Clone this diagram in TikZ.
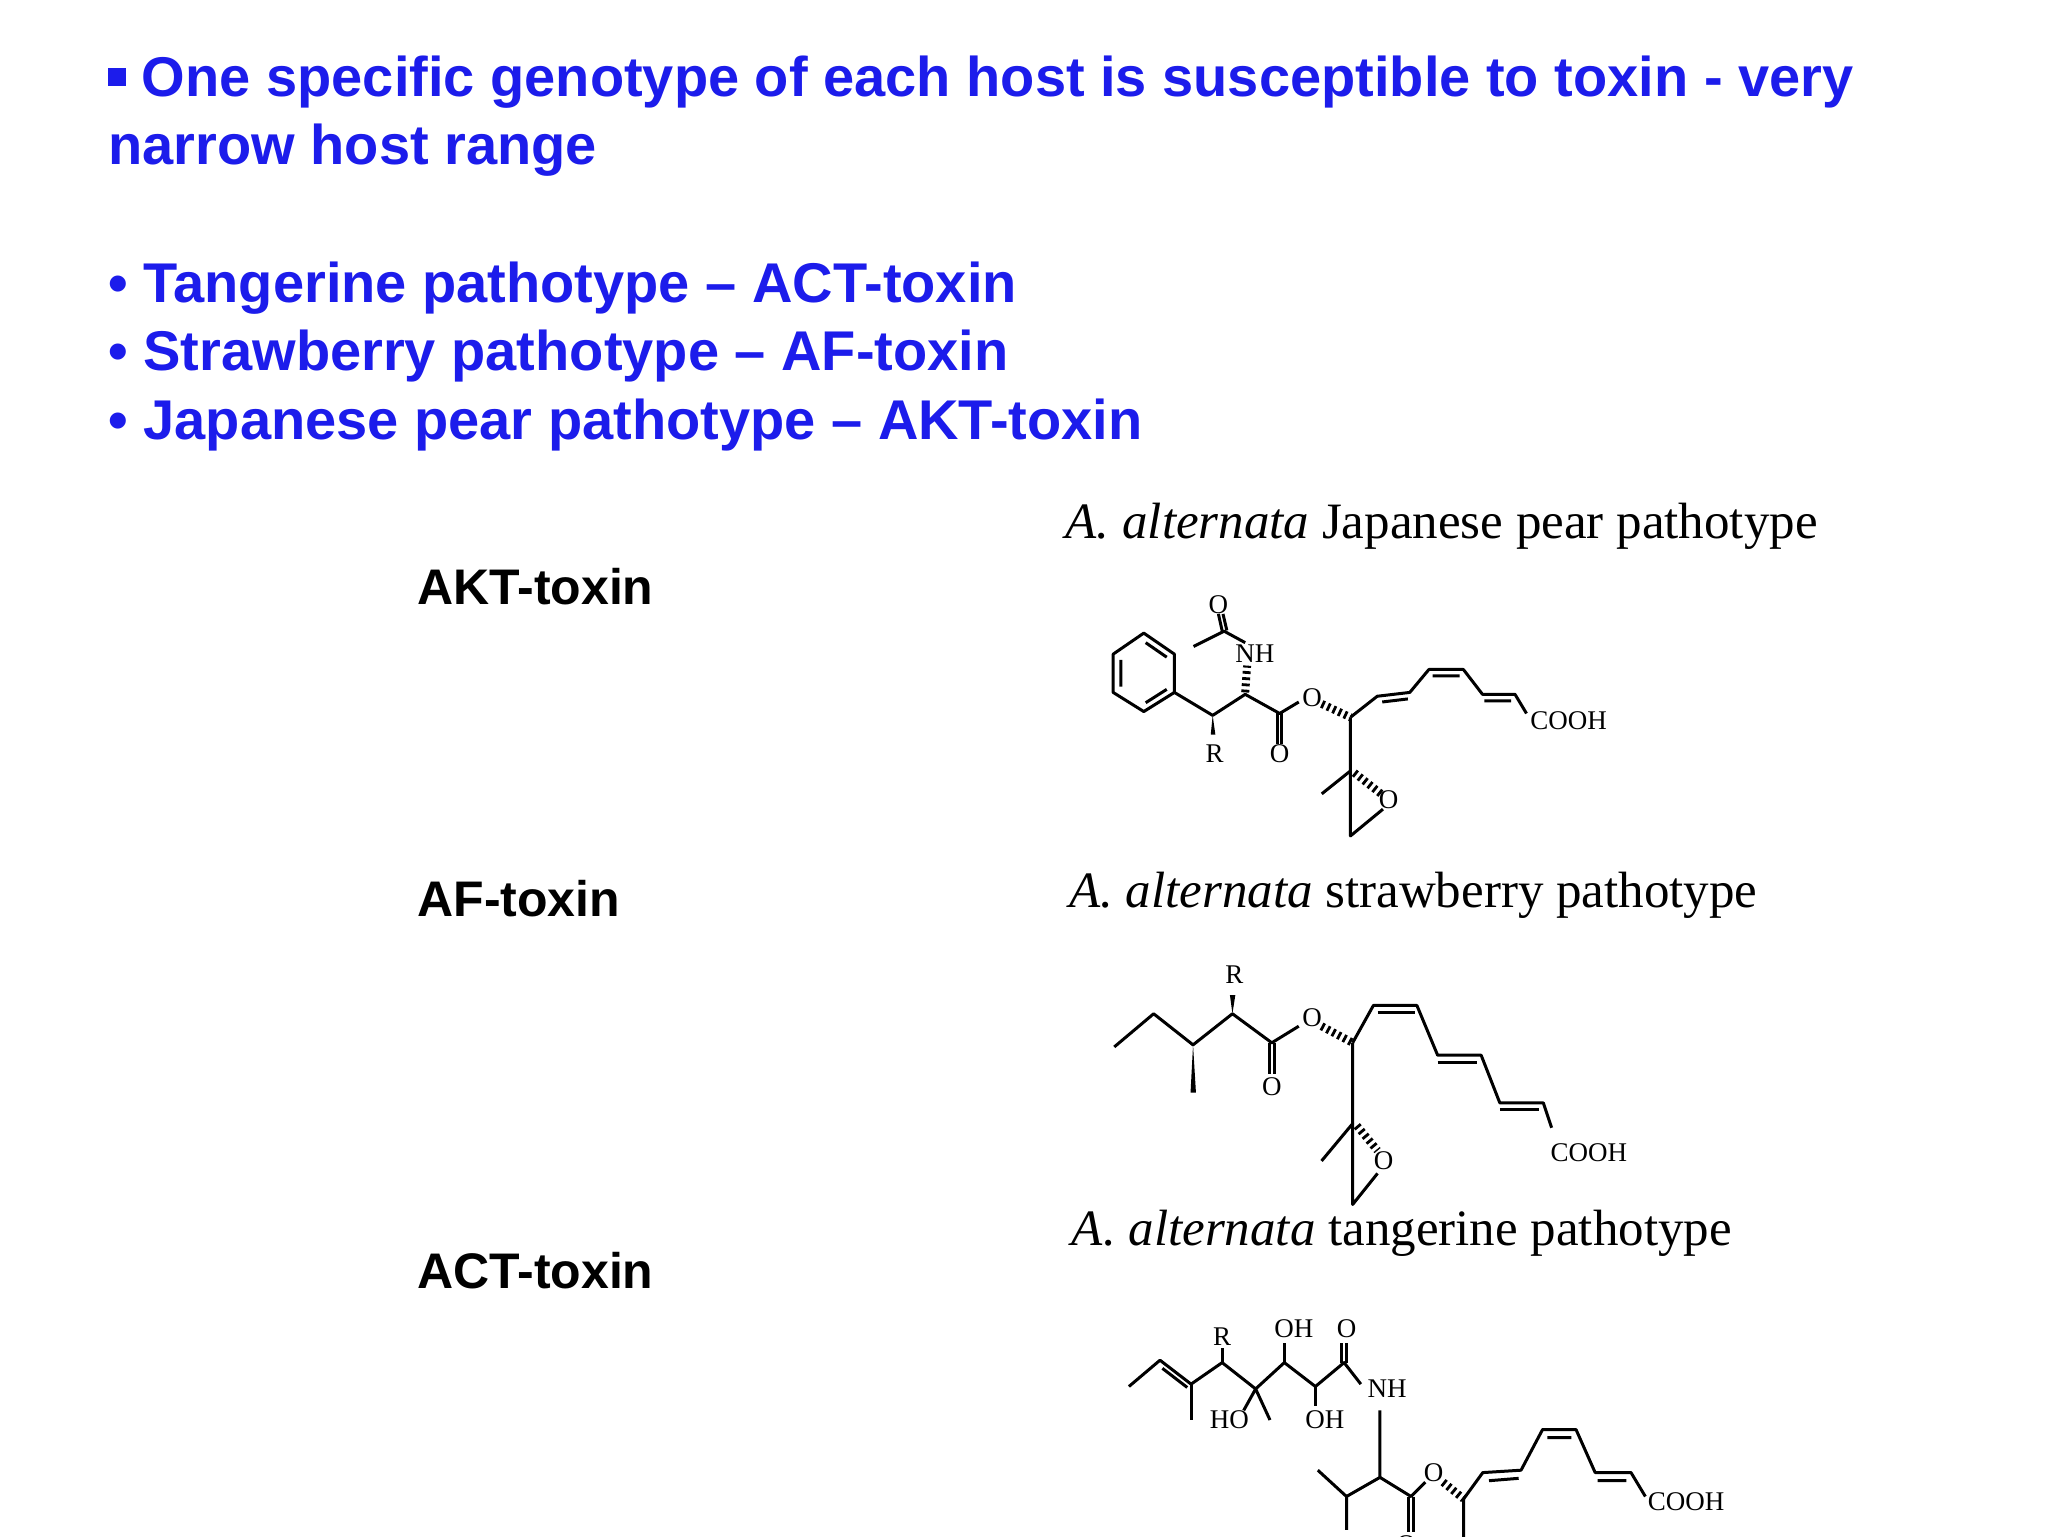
\documentclass[tikz,border=0pt]{standalone}
\usepackage{fontspec}
\setmainfont{Liberation Serif}
\newfontfamily\arialf{Liberation Sans}
\definecolor{tblue}{RGB}{28,28,235}
\begin{document}
\begin{tikzpicture}[x=0.5pt,y=-0.5pt,
  blu/.style={anchor=west,text=tblue,font=\arialf\bfseries\fontsize{28}{32}\selectfont,inner sep=0},
  lab/.style={anchor=west,font=\arialf\bfseries\fontsize{25}{29}\selectfont,inner sep=0},
  capt/.style={anchor=west,font=\fontsize{25.5}{29}\selectfont,inner sep=0},
  atm/.style={font=\fontsize{13.5}{15}\selectfont,inner sep=0},
  bd/.style={line width=1.5pt,line join=round},
  hsh/.style={line width=4pt,dash pattern=on 1.4pt off 1.7pt},
  wdg/.style={fill=black}]
\useasboundingbox (0,0) rectangle (2048,1536);
\fill[white] (0,0) rectangle (2048,1536);
\node[blu] (t1) at (108,82) {\fontsize{18}{20}\selectfont\raisebox{0.3em}{\rule{0.5em}{0.5em}}\fontsize{28}{32}\selectfont\ One specific genotype of each host is susceptible to toxin - very};
\node[blu] (t2) at (108,150) {narrow host range};
\node[blu] (t3) at (108,288) {• Tangerine pathotype – ACT-toxin};
\node[blu] (t4) at (108,356) {• Strawberry pathotype – AF-toxin};
\node[blu] (t5) at (108,425) {• Japanese pear pathotype – AKT-toxin};
\node[lab] (l1) at (417,587) {AKT-toxin};
\node[lab] (l2) at (417,899) {AF-toxin};
\node[lab] (l3) at (417,1271) {ACT-toxin};
% ---------- AKT ----------
\begin{scope}[shift={(1050,480)},scale=1/2.613]
\node[capt] (c1) at (40,120) {\textit{A.\ alternata} Japanese pear pathotype};
\draw[bd] (245,400)--(325,455)--(325,555)--(245,605)--(165,555)--(165,455)--cycle;
\draw[bd] (250,425)--(305,463) (305,547)--(250,582) (185,540)--(185,470);
\draw[bd] (325,555)--(425,615)--(510,560)--(600,610)--(650,580);
\fill[wdg] (425,615)--(420,665)--(432,665)--cycle;
\node[atm] (r1) at (430,715) {R};
\draw[hsh] (510,555)--(515,485);
\node[atm] (nh1) at (535,455) {NH};
\draw[bd] (510,425)--(455,395)--(375,435);
\draw[bd] (450,395)--(440,350) (462,393)--(452,350);
\node[atm] (o1) at (440,325) {O};
\draw[bd] (594,610)--(594,690) (606,610)--(606,690);
\node[atm] (o2) at (600,715) {O};
\node[atm] (o3) at (685,570) {O};
\draw[hsh] (710,585)--(785,620);
\draw[bd] (785,620)--(855,565)--(940,555)--(990,495)--(1080,495)--(1130,560)--(1215,560)--(1245,610);
\draw[bd] (868,580)--(935,572) (1000,512)--(1070,512) (1135,577)--(1205,577);
\draw[bd] (785,620)--(785,760)--(710,820);
\draw[hsh] (795,765)--(865,820);
\node[atm] (o4) at (885,835) {O};
\draw[bd] (870,860)--(785,930)--(785,760);
\node[atm] (co1) at (1355,630) {COOH};
\end{scope}
% ---------- AF ----------
\begin{scope}[shift={(1050,850)},scale=1/2.412]
\node[capt] (c2) at (45,110) {\textit{A.\ alternata} strawberry pathotype};
\draw[bd] (155,475)--(250,395)--(345,470)--(440,395)--(535,465)--(600,425);
\fill[wdg] (345,470)--(339,585)--(352,585)--cycle;
\fill[wdg] (440,395)--(434,350)--(447,350)--cycle;
\node[atm] (r2) at (445,300) {R};
\draw[bd] (529,465)--(529,540) (541,465)--(541,540);
\node[atm] (o5) at (535,570) {O};
\node[atm] (o6) at (632,405) {O};
\draw[hsh] (655,425)--(730,465);
\draw[bd] (730,465)--(780,375)--(885,375)--(935,495)--(1040,495)--(1085,610)--(1190,610)--(1210,670);
\draw[bd] (790,392)--(880,392) (935,512)--(1030,512) (1085,627)--(1180,627);
\draw[bd] (730,465)--(730,660)--(655,750);
\draw[hsh] (740,665)--(790,725);
\node[atm] (o7) at (805,750) {O};
\draw[bd] (790,780)--(730,855)--(730,660);
\node[atm] (co2) at (1300,730) {COOH};
\end{scope}
% ---------- ACT ----------
\begin{scope}[shift={(1050,1200)},scale=1/2.091]
\node[capt] (c3) at (45,70) {\textit{A.\ alternata} tangerine pathotype};
\draw[bd] (165,390)--(230,335)--(295,385)--(360,340)--(430,395)--(490,340)--(555,390)--(615,340)--(650,385);
\draw[bd] (235,352)--(287,392);
\draw[bd] (295,385)--(295,460);
\draw[bd] (360,340)--(360,310);
\node[atm] (r3) at (360,285) {R};
\draw[bd] (430,395)--(460,460) (430,395)--(405,440);
\node[atm] (ho) at (375,460) {HO};
\draw[bd] (490,340)--(490,300);
\node[atm] (oh1) at (510,270) {OH};
\draw[bd] (555,390)--(555,430);
\node[atm] (oh2) at (575,460) {OH};
\draw[bd] (609,340)--(609,300) (621,340)--(621,300);
\node[atm] (o8) at (620,270) {O};
\node[atm] (nh3) at (705,395) {NH};
\draw[bd] (690,440)--(690,580)--(620,620)--(560,565) (620,620)--(620,690);
\draw[bd] (690,580)--(755,620)--(785,590);
\draw[bd] (749,620)--(749,695) (761,620)--(761,695);
\node[atm] (o9) at (745,720) {O};
\node[atm] (o10) at (802,570) {O};
\draw[hsh] (822,590)--(865,625);
\draw[bd] (865,625)--(905,570)--(985,565)--(1030,480)--(1100,480)--(1140,570)--(1215,570)--(1245,620);
\draw[bd] (918,587)--(980,582) (1040,497)--(1090,497) (1145,587)--(1205,587);
\draw[bd] (865,625)--(865,740)--(800,825);
\draw[hsh] (875,745)--(915,800);
\node[atm] (o11) at (935,830) {O};
\draw[bd] (920,860)--(865,910)--(865,740);
\node[atm] (co3) at (1330,630) {COOH};
\end{scope}
\end{tikzpicture}
\end{document}
